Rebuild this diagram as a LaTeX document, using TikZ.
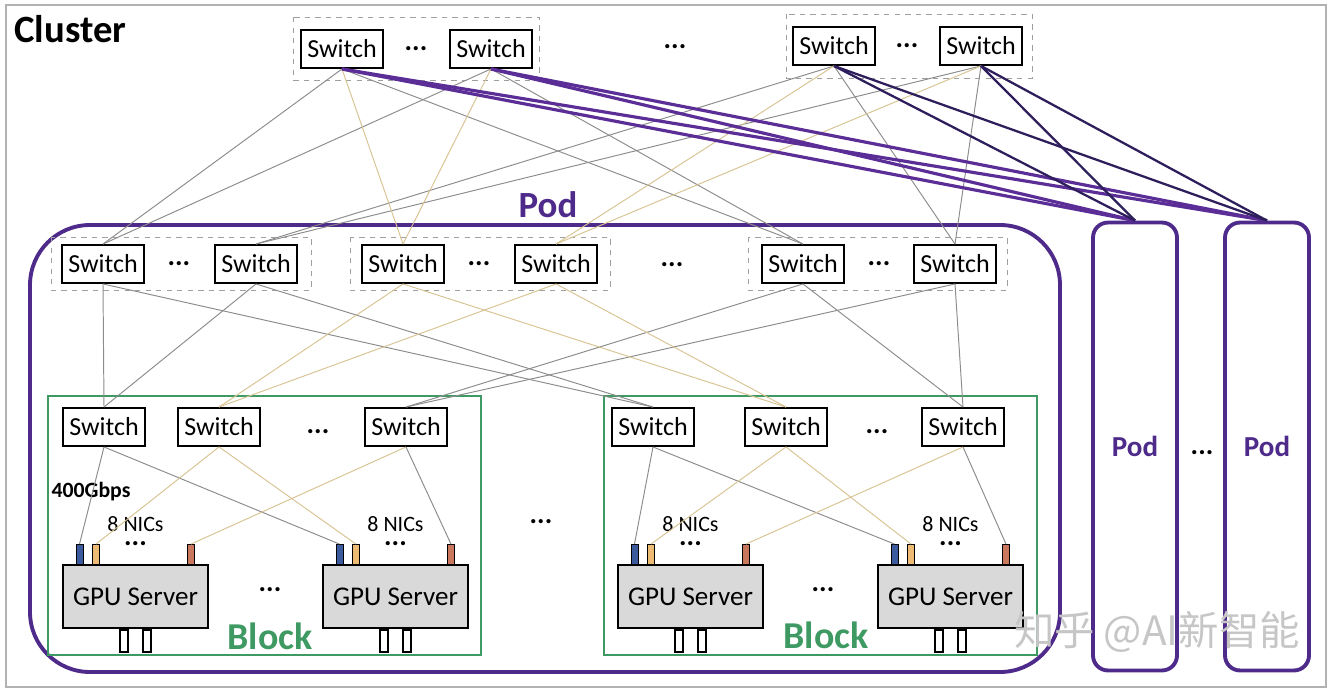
\documentclass[tikz,border=0pt]{standalone}
\usepackage{fontspec}
\setmainfont{Carlito}
\newfontfamily\cjkfont{Noto Sans CJK SC}

\definecolor{podpurple}{HTML}{4E2A8A}
\definecolor{linkpurple}{HTML}{5B2D96}
\definecolor{linknavy}{HTML}{2E1E5C}
\definecolor{blockgreen}{HTML}{3E9A62}
\definecolor{linkgray}{HTML}{8C8C8C}
\definecolor{linktan}{HTML}{D8C393}
\definecolor{nicblue}{HTML}{3B5B9E}
\definecolor{nicorange}{HTML}{EDBB74}
\definecolor{nicred}{HTML}{C9785E}
\definecolor{servergray}{HTML}{D9D9D9}

\tikzset{
  switchbox/.style={draw, line width=1.1pt, fill=white, minimum width=1.64cm,
    minimum height=0.76cm, inner sep=0pt, font=\fontsize{14.8}{16}\selectfont},
  groupbox/.style={draw=gray!75, dashed, line width=0.5pt},
  dots/.style={inner sep=0pt, font=\fontsize{16}{17}\selectfont\bfseries},
  nicslabel/.style={inner sep=0pt, align=center, font=\fontsize{12.5}{14}\selectfont},
  server/.style={draw, line width=0.85pt, fill=servergray, minimum width=2.9cm,
    minimum height=1.26cm, inner sep=0pt, font=\fontsize{15.4}{17}\selectfont},
  nic/.style={draw, line width=0.5pt, minimum width=0.14cm, minimum height=0.42cm, inner sep=0pt},
  port/.style={draw, line width=0.7pt, fill=white, minimum width=0.16cm, minimum height=0.44cm, inner sep=0pt},
  smallpod/.style={draw=podpurple, line width=2.2pt, rounded corners=0.3cm, minimum width=1.68cm,
    minimum height=8.96cm, inner sep=0pt, text=podpurple, font=\fontsize{16.5}{18}\selectfont\bfseries},
  graylink/.style={color=linkgray, line width=0.55pt},
  tanlink/.style={color=linktan, line width=0.55pt},
}
\newcommand{\nicsdots}{8 NICs\\[-6pt]{\fontsize{16}{17}\selectfont\bfseries ...}}

\begin{document}
\begin{tikzpicture}[x=0.02cm, y=-0.02cm]
  \useasboundingbox (0,0) rectangle (1330,690);
  \draw[gray!60, line width=0.6pt] (6,5) rectangle (1326,687);
  \node[anchor=west, inner sep=0pt, font=\fontsize{22}{24}\selectfont\bfseries] (cluster) at (14,29) {Cluster};

  % containers
  \draw[podpurple, line width=2.2pt, rounded corners=1.2cm] (30,225) rectangle (1060,672);
  \node[text=podpurple, inner sep=0pt, font=\fontsize{21}{23}\selectfont\bfseries] (podtitle) at (548,205) {Pod};
  \draw[blockgreen, line width=1pt] (48,396) rectangle (481,655);
  \draw[blockgreen, line width=1pt] (604,396) rectangle (1037,655);
  \draw[groupbox] (293,17) rectangle (539,80);
  \draw[groupbox] (786,14) rectangle (1032,78);
  \draw[groupbox] (51,237) rectangle (311,290);
  \draw[groupbox] (350,237) rectangle (610,290);
  \draw[groupbox] (748,237) rectangle (1007,290);

  % top switches
  \draw
    (342,49) node[switchbox] (ta) {Switch}
    (416,49) node[dots] (tdots1) {...}
    (491,49) node[switchbox] (tb) {Switch}
    (675,47) node[dots] (tdots2) {...}
    (834,46) node[switchbox] (tc) {Switch}
    (907,46) node[dots] (tdots3) {...}
    (981,46) node[switchbox] (td) {Switch};

  % pod switches
  \draw
    (103,264) node[switchbox] (p11) {Switch}
    (179,264) node[dots] (pdots1) {...}
    (256,264) node[switchbox] (p12) {Switch}
    (403,264) node[switchbox] (p21) {Switch}
    (479,264) node[dots] (pdots2) {...}
    (556,264) node[switchbox] (p22) {Switch}
    (672,265) node[dots] (pdots3) {...}
    (803,264) node[switchbox] (p31) {Switch}
    (879,264) node[dots] (pdots4) {...}
    (955,264) node[switchbox] (p32) {Switch};

  % block switches
  \draw
    (104,427) node[switchbox] (b11) {Switch}
    (219,427) node[switchbox] (b12) {Switch}
    (318,432) node[dots] (bdots1) {...}
    (406,427) node[switchbox] (b13) {Switch}
    (653,427) node[switchbox] (b21) {Switch}
    (786,427) node[switchbox] (b22) {Switch}
    (877,432) node[dots] (bdots2) {...}
    (963,427) node[switchbox] (b23) {Switch};

  % NICs and ports
  \draw
    (79.5,555) node[nic, fill=nicblue] (n11a) {}
    (96,555) node[nic, fill=nicorange] (n11b) {}
    (191,555) node[nic, fill=nicred] (n11c) {}
    (339.5,555) node[nic, fill=nicblue] (n12a) {}
    (356,555) node[nic, fill=nicorange] (n12b) {}
    (451,555) node[nic, fill=nicred] (n12c) {}
    (634.5,555) node[nic, fill=nicblue] (n21a) {}
    (651,555) node[nic, fill=nicorange] (n21b) {}
    (746,555) node[nic, fill=nicred] (n21c) {}
    (894.5,555) node[nic, fill=nicblue] (n22a) {}
    (911,555) node[nic, fill=nicorange] (n22b) {}
    (1006,555) node[nic, fill=nicred] (n22c) {};
  \draw
    (124,641) node[port] (q11a) {}
    (147,641) node[port] (q11b) {}
    (384,641) node[port] (q12a) {}
    (407,641) node[port] (q12b) {}
    (679,641) node[port] (q21a) {}
    (702,641) node[port] (q21b) {}
    (939,641) node[port] (q22a) {}
    (962,641) node[port] (q22b) {};

  % servers
  \draw
    (135.5,596.5) node[server] (s11) {GPU Server}
    (270,590) node[dots] (sdots1) {...}
    (395.5,596.5) node[server] (s12) {GPU Server}
    (541,522) node[dots] (blockdots) {...}
    (690.5,596.5) node[server] (s21) {GPU Server}
    (823,590) node[dots] (sdots2) {...}
    (950.5,596.5) node[server] (s22) {GPU Server};
  \begin{scope}[inner sep=0pt]
    \node[font=\fontsize{12.4}{14}\selectfont\bfseries] (speed) at (91,492) {400Gbps};
    \node[nicslabel, anchor=north] (nics11) at (135.5,516) {\nicsdots};
    \node[nicslabel, anchor=north] (nics12) at (395.5,516) {\nicsdots};
    \node[nicslabel, anchor=north] (nics21) at (690.5,516) {\nicsdots};
    \node[nicslabel, anchor=north] (nics22) at (950.5,516) {\nicsdots};
    \node[text=blockgreen, font=\fontsize{21.6}{23}\selectfont\bfseries] (block1) at (270,636) {Block};
    \node[text=blockgreen, font=\fontsize{21.6}{23}\selectfont\bfseries] (block2) at (826,635) {Block};
  \end{scope}

  % other pods
  \node[smallpod] (podA) at (1135,446.5) {Pod};
  \node[dots] (poddots) at (1202,453) {...};
  \node[smallpod] (podB) at (1267,446.5) {Pod};

  % cluster -> pod switches
  \begin{scope}[graylink]
    \draw (ta.south) to (p11.north);
    \draw (tb.south) to (p11.north);
    \draw (ta.south) to (p31.north);
    \draw (tb.south) to (p31.north);
    \draw (tc.south) to (p12.north);
    \draw (td.south) to (p12.north);
    \draw (tc.south) to (p32.north);
    \draw (td.south) to (p32.north);
  \end{scope}
  \begin{scope}[tanlink]
    \draw (ta.south) to (p21.north);
    \draw (tb.south) to (p21.north);
    \draw (tc.south) to (p22.north);
    \draw (td.south) to (p22.north);
  \end{scope}

  % pod switches -> block switches
  \begin{scope}[graylink]
    \draw (p11.south) to (b11.north);
    \draw (p12.south) to (b11.north);
    \draw (p11.south) to (b21.north);
    \draw (p12.south) to (b21.north);
    \draw (p31.south) to (b13.north);
    \draw (p32.south) to (b13.north);
    \draw (p31.south) to (b23.north);
    \draw (p32.south) to (b23.north);
  \end{scope}
  \begin{scope}[tanlink]
    \draw (p21.south) to (b12.north);
    \draw (p22.south) to (b12.north);
    \draw (p21.south) to (b22.north);
    \draw (p22.south) to (b22.north);
  \end{scope}

  % block switches -> NICs
  \begin{scope}[graylink]
    \draw (b11.south) to (n11a.north);
    \draw (b11.south) to (n12a.north);
    \draw (b13.south) to (n12c.north);
    \draw (b21.south) to (n21a.north);
    \draw (b21.south) to (n22a.north);
    \draw (b23.south) to (n22c.north);
  \end{scope}
  \begin{scope}[tanlink]
    \draw (b12.south) to (n11b.north);
    \draw (b12.south) to (n12b.north);
    \draw (b13.south) to (n11c.north);
    \draw (b22.south) to (n21b.north);
    \draw (b22.south) to (n22b.north);
    \draw (b23.south) to (n21c.north);
  \end{scope}

  % cluster -> other pods
  \begin{scope}[linkpurple, line width=1.8pt]
    \draw (ta.south) to (podA.north);
    \draw (ta.south) to (podB.north);
    \draw (tb.south) to (podA.north);
    \draw (tb.south) to (podB.north);
  \end{scope}
  \begin{scope}[linknavy, line width=1.3pt]
    \draw (tc.south) to (podA.north);
    \draw (tc.south) to (podB.north);
    \draw (td.south) to (podA.north);
    \draw (td.south) to (podB.north);
  \end{scope}

  \node[text=gray!45, inner sep=0pt, font=\cjkfont\fontsize{23}{25}\selectfont] (mark) at (1157,632) {知乎 @AI新智能};
\end{tikzpicture}
\end{document}
